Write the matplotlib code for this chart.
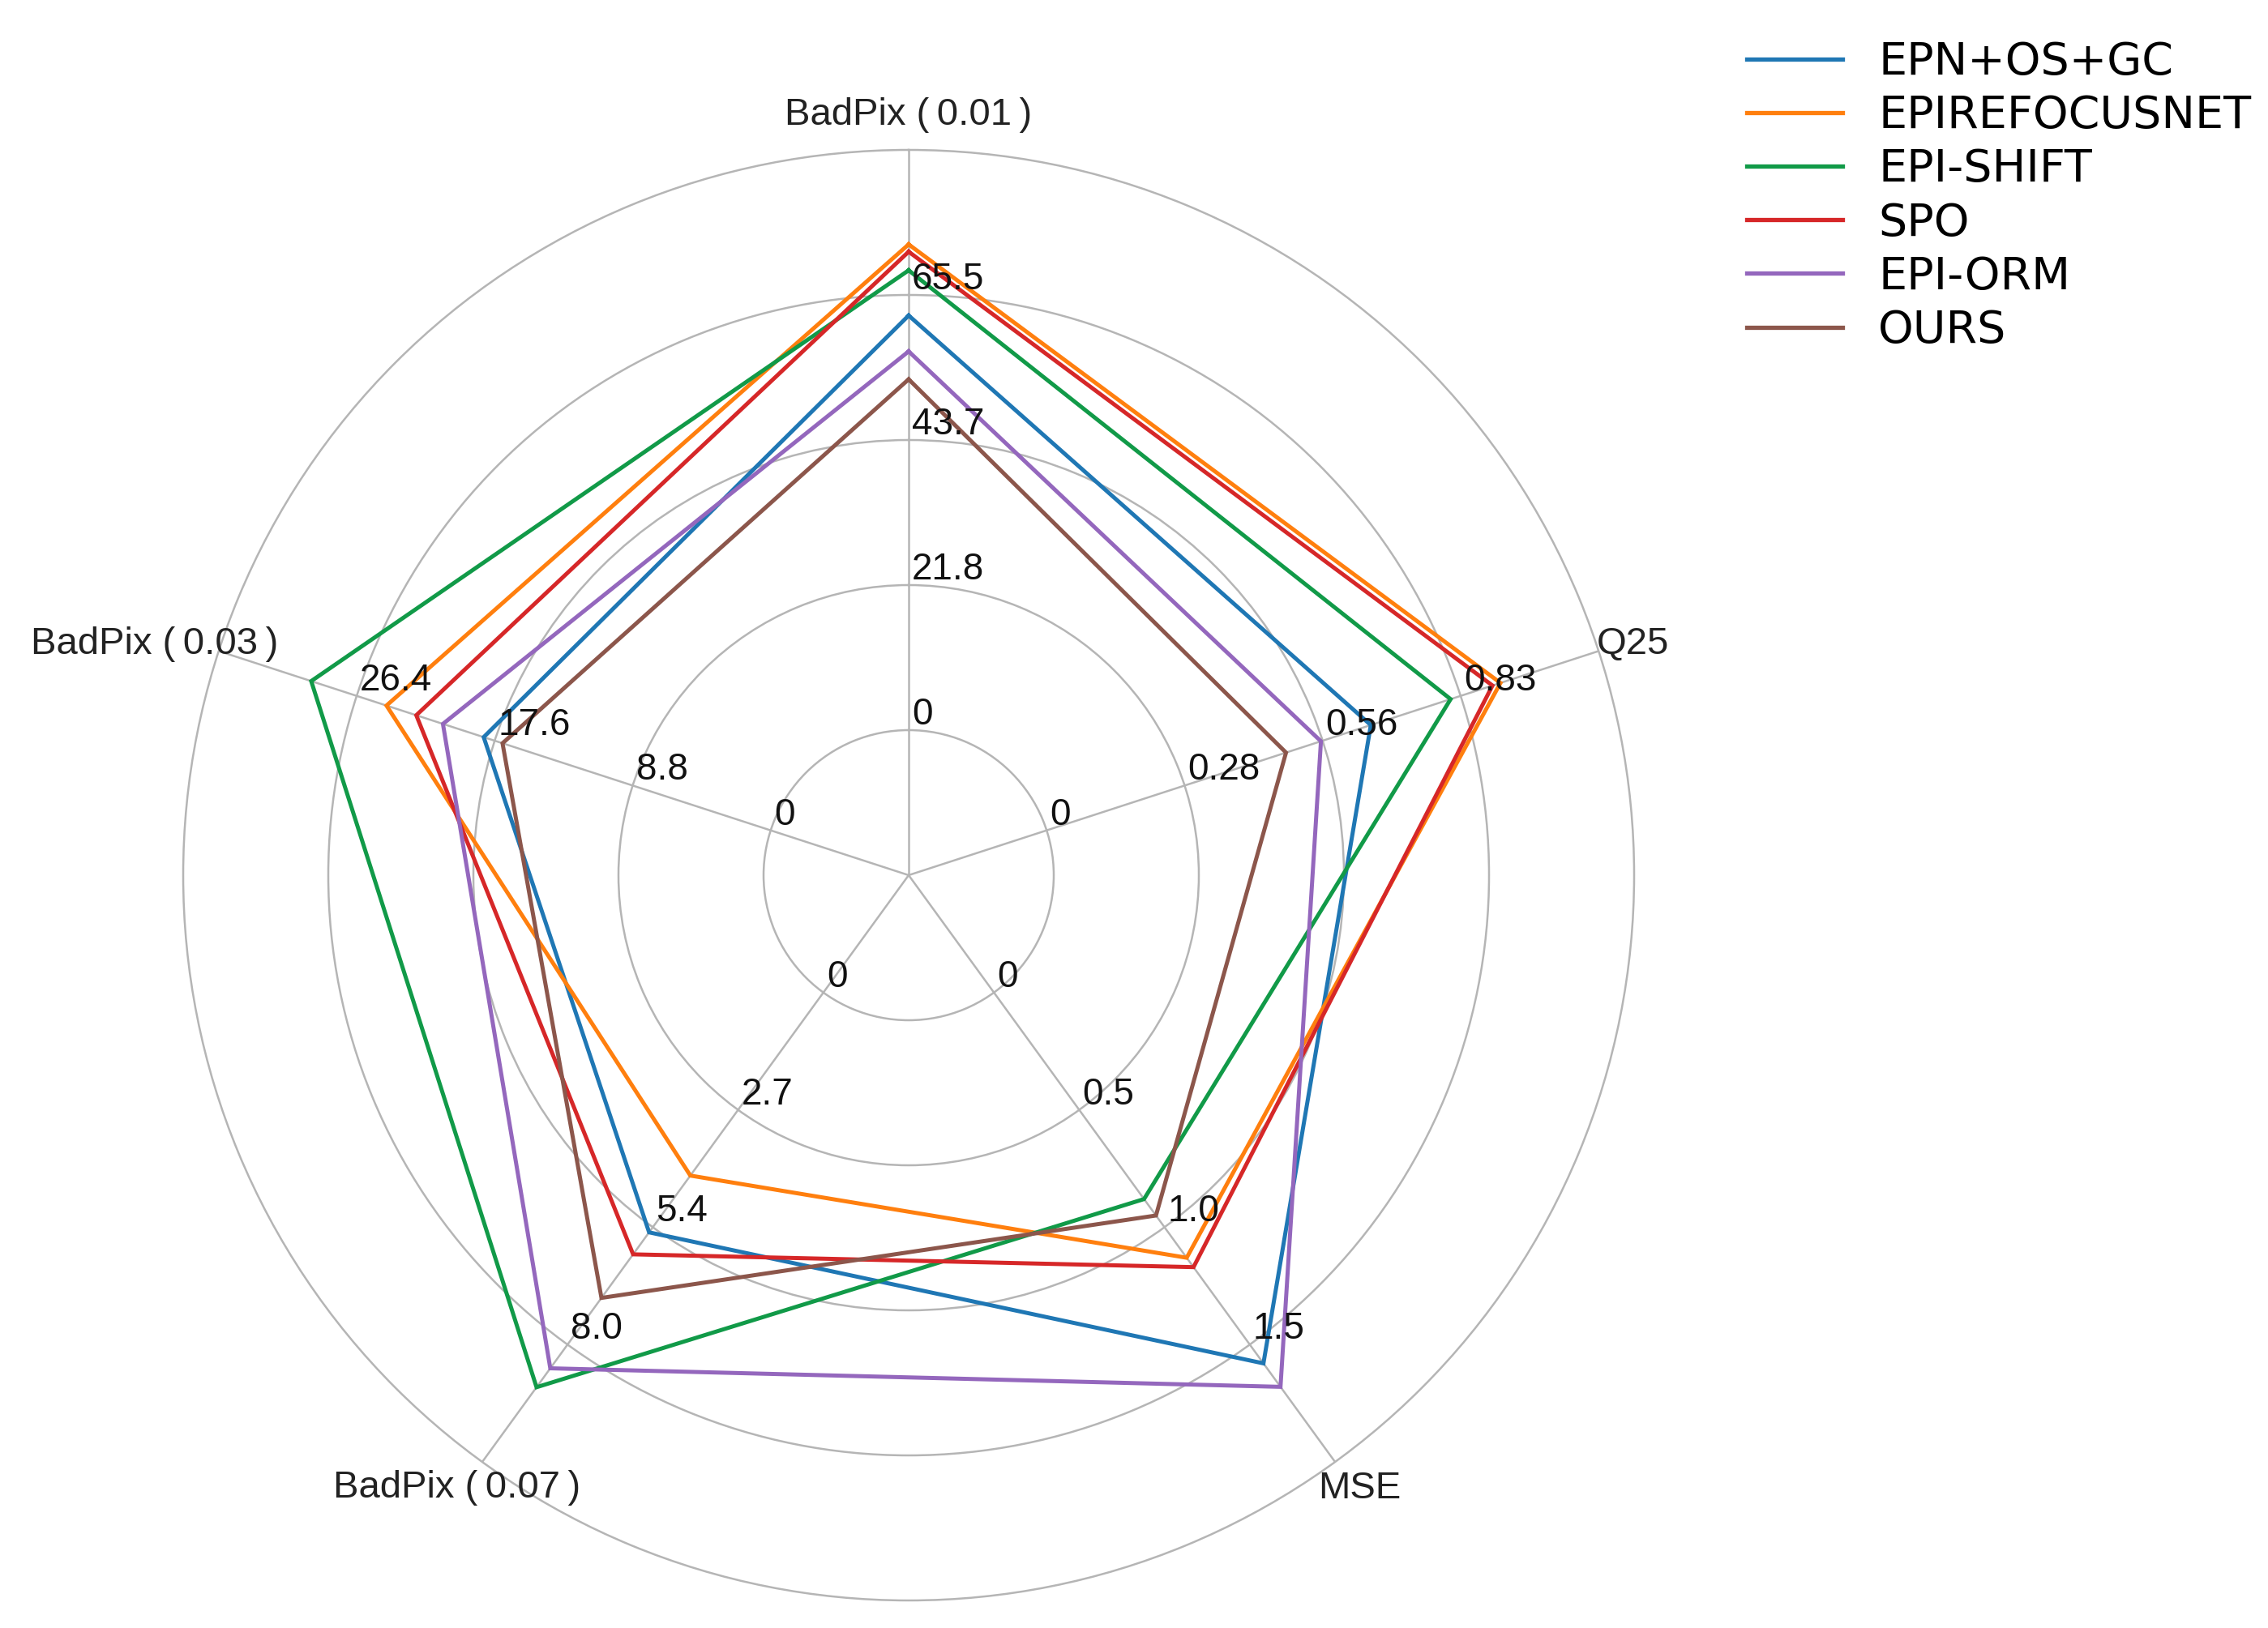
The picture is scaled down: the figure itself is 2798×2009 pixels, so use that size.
import numpy as np
import matplotlib
matplotlib.use("Agg")
import matplotlib.pyplot as plt
from matplotlib.lines import Line2D

# ---------------- data ----------------
categories = ["BadPix (\u20090.01\u2009)", "Q25", "MSE", "BadPix (\u20090.07\u2009)", "BadPix (\u20090.03\u2009)"]
tick_labels = [
    ["0", "21.8", "43.7", "65.5"],
    ["0", "0.28", "0.56", "0.83"],
    ["0", "0.5", "1.0", "1.5"],
    ["0", "2.7", "5.4", "8.0"],
    ["0", "8.8", "17.6", "26.4"],
]
axis_step = [21.83, 0.2767, 0.5, 2.667, 8.8]   # value per ring; label "0" sits on ring 1

methods = ["EPN+OS+GC", "EPIREFOCUSNET", "EPI-SHIFT", "SPO", "EPI-ORM", "OURS"]
epn_os_gc     = [62.4, 0.65, 1.58, 5.45, 18.3]
epirefocusnet = [73.1, 0.91, 1.13, 4.16, 24.5]
epi_shift     = [69.2, 0.81, 0.88, 8.97, 29.3]
spo           = [72.0, 0.894, 1.17, 5.95, 22.6]
epi_orm       = [57.0, 0.55, 1.68, 8.54, 20.9]
ours          = [52.8, 0.48, 0.95, 6.94, 17.1]
series = [epn_os_gc, epirefocusnet, epi_shift, spo, epi_orm, ours]
colors = ["#1f77b4", "#ff7f0e", "#119a48", "#d62728", "#9467bd", "#8c564b"]

# ---------------- figure ----------------
W, H = 2798, 2009
DPI = 200
fig = plt.figure(figsize=(W / DPI, H / DPI), dpi=DPI)

cx, cy, R = 1121, 1080, 895
ax = fig.add_axes([(cx - R) / W, (H - cy - R) / H, 2 * R / W, 2 * R / H], projection="polar")
ax.set_theta_offset(np.pi / 2)
ax.set_theta_direction(-1)
ax.set_ylim(0, 5)

n = len(categories)
angles = np.arange(n) * 2 * np.pi / n

grid_c = "#b5b5b5"
ax.set_xticks(angles)
ax.set_xticklabels([])
ax.set_yticks([1, 2, 3, 4])
ax.set_yticklabels([])
ax.tick_params(length=0)
ax.grid(True, color=grid_c, linewidth=0.9)
ax.spines["polar"].set_color(grid_c)
ax.spines["polar"].set_linewidth(0.9)

def to_r(vals):
    return [1 + v / s for v, s in zip(vals, axis_step)]

theta_closed = np.concatenate([angles, angles[:1]])
for name, vals, c in zip(methods, series, colors):
    r = to_r(vals)
    ax.plot(theta_closed, r + r[:1], color=c, linewidth=1.8, label=name, zorder=3,
            solid_joinstyle="miter")

px = 72.0 / DPI  # points per pixel
tick_font = ["Liberation Sans", "DejaVu Sans"]
for i, labs in enumerate(tick_labels):
    for k, lab in enumerate(labs):
        ax.annotate(lab, xy=(angles[i], k + 1), xytext=(4 * px, 7 * px),
                    textcoords="offset points", ha="left", va="baseline",
                    fontsize=16.5, family=tick_font, color="#111111", zorder=5)

# axis names
name_off = [(0, 31, "center"), (-2, -4, "left"), (30, -45, "center"),
            (-31, -44, "center"), (-79, -4, "center")]
for i, cat in enumerate(categories):
    dx, dy, ha = name_off[i]
    ax.annotate(cat, xy=(angles[i], 5), xytext=(dx * px, dy * px),
                textcoords="offset points", ha=ha, va="baseline",
                fontsize=17, family=tick_font, color="#222222",
                annotation_clip=False)

# legend
handles = [Line2D([0], [0], color=c, lw=1.9) for c in colors]
fig.legend(handles, methods, loc="upper left",
           bbox_to_anchor=(2155 / W, 1 - 50 / H), frameon=False,
           borderpad=0, borderaxespad=0,
           handlelength=2.12, handletextpad=0.8, labelspacing=0.22,
           prop={"family": "DejaVu Sans", "size": 20})

fig.savefig("out.png", dpi=DPI)
